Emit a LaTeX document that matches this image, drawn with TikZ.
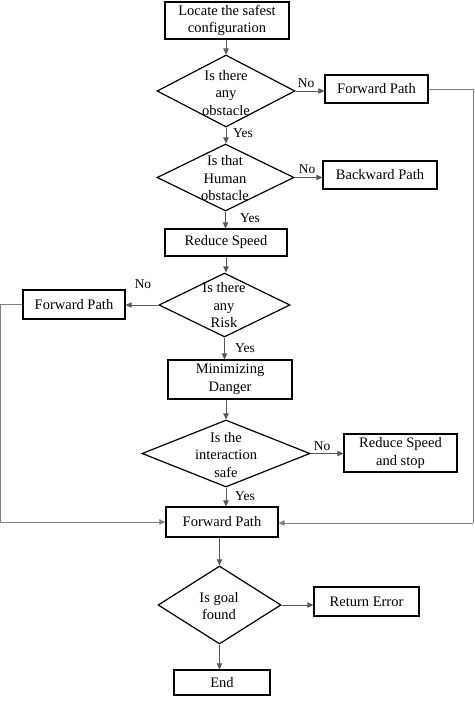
\documentclass[tikz,border=0pt]{standalone}
\usepackage{fontspec}
\setmainfont{Liberation Serif}
\usetikzlibrary{shapes.geometric,arrows.meta}
\begin{document}
\begin{tikzpicture}[x=1pt,y=-1pt,
  every node/.style={font=\fontsize{14.5}{17.5}\selectfont, inner sep=0pt},
  procbox/.style={draw=black, line width=1.2pt, align=center, rectangle},
  decision/.style={draw=black, line width=1.2pt, diamond, shape aspect=1},
  dtext/.style={align=center},
  lbl/.style={font=\fontsize{13.5}{16}\selectfont},
  arr/.style={draw=black!65, line width=0.9pt, -{Triangle[length=6pt,width=5.5pt]}},
  ln/.style={draw=black!50, line width=0.9pt}]
\useasboundingbox (0,0) rectangle (474,701);
% boxes
\node[procbox, minimum width=124pt, minimum height=37pt] (B1) at (227,20.5) {Locate the safest\\configuration};
\node[procbox, minimum width=103pt, minimum height=28pt] (FP1) at (376.5,89) {Forward Path};
\node[procbox, minimum width=114pt, minimum height=28pt] (BP) at (380,175) {Backward Path};
\node[procbox, minimum width=122pt, minimum height=27pt] (RS) at (226,242.5) {Reduce Speed};
\node[procbox, minimum width=102pt, minimum height=29pt] (FP2) at (74,304.5) {Forward Path};
\node[procbox, minimum width=124pt, minimum height=39pt] (MD) at (230,379.5) {Minimizing\\Danger};
\node[procbox, minimum width=113pt, minimum height=38pt] (RSS) at (400.5,453) {Reduce Speed\\and stop};
\node[procbox, minimum width=112pt, minimum height=30pt] (FP3) at (222,522) {Forward Path};
\node[procbox, minimum width=105pt, minimum height=29pt] (RE) at (366.5,601.5) {Return Error};
\node[procbox, minimum width=96pt, minimum height=25pt] (END) at (222,682.5) {End};
% decisions
\node[decision, minimum width=138pt, minimum height=72pt] (D1) at (226,91) {};
\node[dtext] (T1) at (226,93) {Is there\\any\\obstacle};
\node[decision, minimum width=137pt, minimum height=67pt] (D2) at (225.5,177.5) {};
\node[dtext] (T2) at (225,178.5) {Is that\\Human\\obstacle};
\node[decision, minimum width=131pt, minimum height=64pt] (D3) at (224.5,305) {};
\node[dtext] (T3) at (224,305.5) {Is there\\any\\Risk};
\node[decision, minimum width=168pt, minimum height=67pt] (D4) at (226,453.5) {};
\node[dtext] (T4) at (226,455) {Is the\\interaction\\safe};
\node[decision, minimum width=123pt, minimum height=78pt] (D5) at (219.5,605) {};
\node[dtext] (T5) at (219,606) {Is goal\\found};
% side corners
\coordinate (CR1) at (473,89);
\coordinate (CR2) at (473,523);
\coordinate (CL1) at (0,304.5);
\coordinate (CL2) at (0,522);
% vertical connectors
\draw[arr] (D1.north |- B1.south) -- (D1.north);
\draw[arr] (D1.south) -- (D1.south |- D2.north);
\draw[arr] (D2.south) -- (D2.south |- RS.north);
\draw[arr] (RS.south) -- (RS.south |- D3.north);
\draw[arr] (D3.south) -- (D3.south |- MD.north);
\draw[arr] (D4.north |- MD.south) -- (D4.north);
\draw[arr] (D4.south) -- (D4.south |- FP3.north);
\draw[arr] (D5.north |- FP3.south) -- (D5.north);
\draw[arr] (D5.south) -- (D5.south |- END.north);
% horizontal connectors
\draw[arr] (D1.east) -- (D1.east -| FP1.west);
\draw[arr] (D2.east) -- (D2.east -| BP.west);
\draw[arr] (D3.west) -- (D3.west -| FP2.east);
\draw[arr] (D4.east) -- (D4.east -| RSS.west);
\draw[arr] (D5.east) -- (D5.east -| RE.west);
% loops
\draw[ln] (FP1.east) -- (CR1) -- (CR2);
\draw[arr, draw=black!50] (CR2) -- (FP3.east |- CR2);
\draw[ln] (FP2.west) -- (CL1) -- (CL2);
\draw[arr, draw=black!50] (CL2) -- (FP3.west);
% labels
\node[lbl] (L1) at (306,83) {No};
\node[lbl] (L2) at (243,133) {Yes};
\node[lbl] (L3) at (307,169) {No};
\node[lbl] (L4) at (250,218) {Yes};
\node[lbl] (L5) at (143,284) {No};
\node[lbl] (L6) at (245,348) {Yes};
\node[lbl] (L7) at (322,446) {No};
\node[lbl] (L8) at (245,496) {Yes};
\end{tikzpicture}
\end{document}
